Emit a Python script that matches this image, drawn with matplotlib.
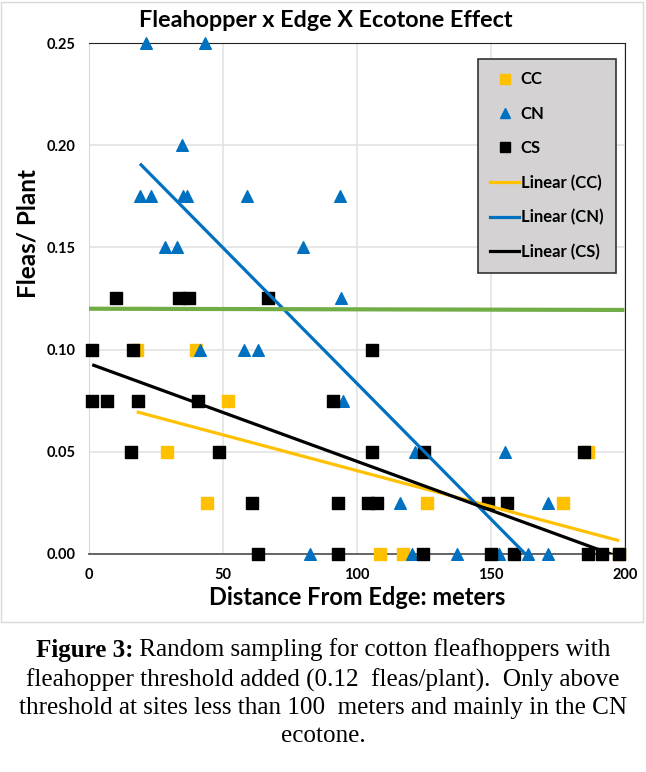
import numpy as np
import matplotlib.pyplot as plt
from matplotlib.lines import Line2D
from matplotlib.patches import Rectangle

# distance from edge (m) and fleas per plant
cc_x = [17.8, 40.0, 51.7, 29.0, 43.9, 126.0, 108.6, 117.3, 177.0, 186.3, 197.8]
cc_y = [0.10, 0.10, 0.075, 0.05, 0.025, 0.025, 0.0, 0.0, 0.025, 0.05, 0.0]

cn_x = [21.2, 43.3, 34.8, 19.0, 23.0, 35.2, 36.7, 58.8, 28.4, 32.7, 93.6, 80.0,
        93.9, 41.4, 58.0, 62.9, 94.6, 121.6, 116.0, 82.5, 120.4, 137.2, 155.2,
        171.1, 153.1, 163.9, 171.1]
cn_y = [0.25, 0.25, 0.20, 0.175, 0.175, 0.175, 0.175, 0.175, 0.15, 0.15, 0.175,
        0.15, 0.125, 0.10, 0.10, 0.10, 0.075, 0.05, 0.025, 0.0, 0.0, 0.0, 0.05,
        0.025, 0.0, 0.0, 0.0]

cs_x = [10.1, 33.7, 37.3, 66.9, 1.2, 16.5, 1.2, 6.6, 18.4, 40.8, 15.7, 48.5,
        60.9, 63.2, 105.7, 91.2, 105.5, 125.1, 92.8, 104.2, 107.3, 93.0, 124.7,
        184.8, 148.7, 155.8, 149.9, 158.6, 186.3, 191.6, 197.8]
cs_y = [0.125, 0.125, 0.125, 0.125, 0.10, 0.10, 0.075, 0.075, 0.075, 0.075,
        0.05, 0.05, 0.025, 0.0, 0.10, 0.075, 0.05, 0.05, 0.025, 0.025, 0.025,
        0.0, 0.0, 0.05, 0.025, 0.025, 0.0, 0.0, 0.0, 0.0, 0.0]

threshold = 0.12

fig = plt.figure(figsize=(6.46, 7.72), dpi=100)
ax = fig.add_axes([0.1378, 0.2824, 0.8297, 0.6619])

ax.set_xlim(0, 200)
ax.set_ylim(0, 0.25)
ax.set_xticks([0, 50, 100, 150, 200])
ax.set_yticks([0, 0.05, 0.10, 0.15, 0.20, 0.25])
ax.set_yticklabels(['%.2f' % v for v in ax.get_yticks()])
ax.grid(True, color='#e3e3e3', lw=1.2, zorder=0)
ax.tick_params(length=0, pad=10, labelsize=10.5)
for lab in ax.get_xticklabels() + ax.get_yticklabels():
    lab.set_fontweight('bold')
    lab.set_family('Lato')
for side in ['top', 'right']:
    ax.spines[side].set_color('#222222')
ax.spines['left'].set_color('#d9d9d9')
ax.spines['bottom'].set_color('#595959')
ax.spines['bottom'].set_linewidth(1.3)

ax.scatter(cc_x, cc_y, marker='s', s=70, color='#FFC000', zorder=3, clip_on=False)
ax.scatter(cn_x, cn_y, marker='^', s=70, color='#0070C0', zorder=4, clip_on=False)
ax.scatter(cs_x, cs_y, marker='s', s=70, color='black', zorder=5, clip_on=False)

# linear trendlines over each series' x range
for xs, ys, col in [(cc_x, cc_y, '#FFC000'), (cn_x, cn_y, '#0070C0'), (cs_x, cs_y, 'black')]:
    m, b = np.polyfit(xs, ys, 1)
    xx = np.array([min(xs), max(xs)])
    ax.plot(xx, m * xx + b, color=col, lw=2.3, zorder=6, solid_capstyle='butt')

ax.plot([0, 199], [threshold, threshold * 0.995], color='#70AD47', lw=3, zorder=7)

handles = [
    Line2D([], [], ls='', marker='s', ms=7, color='#FFC000'),
    Line2D([], [], ls='', marker='^', ms=7, color='#0070C0'),
    Line2D([], [], ls='', marker='s', ms=7, color='black'),
    Line2D([], [], color='#FFC000', lw=2.3),
    Line2D([], [], color='#0070C0', lw=2.3),
    Line2D([], [], color='black', lw=2.3),
]
labels = ['CC', 'CN', 'CS', 'Linear (CC)', 'Linear (CN)', 'Linear (CS)']
leg = ax.legend(handles, labels, loc='upper left', bbox_to_anchor=(0.7257, 0.9687),
                borderaxespad=0, frameon=True, fancybox=False, facecolor='#d4d2d2',
                edgecolor='#333333', framealpha=1, labelspacing=1.1, handlelength=1.7,
                handletextpad=0.12, borderpad=0.75,
                prop={'family': 'Lato', 'weight': 'bold', 'size': 12})
leg.get_frame().set_linewidth(1.2)
leg.set_zorder(10)

fig.text(0.505, 0.974, 'Fleahopper x Edge X Ecotone Effect', ha='center', va='center',
         family='Lato', weight='bold', size=16.8)
ax.set_xlabel('Distance From Edge: meters', family='Lato', weight='bold', size=17,
              labelpad=3)
fig.text(0.043, 0.698, 'Fleas/ Plant', rotation=90, ha='center', va='center',
         family='Lato', weight='bold', size=17.5)

fig.patches.append(Rectangle((0.002, 0.194), 0.994, 0.804, transform=fig.transFigure,
                             fill=False, edgecolor='#d9d9d9', lw=1))

# caption, "Figure 3:" in bold then regular text, each line centred
cap_font = 'Liberation Serif'
cap_size = 18.1
lines = [
    ('Figure 3:', ' Random sampling for cotton fleafhoppers with'),
    ('', 'fleahopper threshold added (0.12  fleas/plant).  Only above'),
    ('', 'threshold at sites less than 100  meters and mainly in the CN'),
    ('', 'ecotone.'),
]
ys = [650, 680, 708, 736]
fig.canvas.draw()
r = fig.canvas.get_renderer()
W = fig.bbox.width
for (bold, reg), ypx in zip(lines, ys):
    yf = 1 - ypx / 772
    tb = fig.text(0, yf, bold, family=cap_font, weight='bold', size=cap_size, va='center')
    tr = fig.text(0, yf, reg, family=cap_font, size=cap_size, va='center')
    wb = tb.get_window_extent(r).width if bold else 0
    wr = tr.get_window_extent(r).width
    x0 = (W - wb - wr) / 2 / W
    tb.set_x(x0)
    tr.set_x(x0 + wb / W)

fig.savefig('out.png', dpi=100)
